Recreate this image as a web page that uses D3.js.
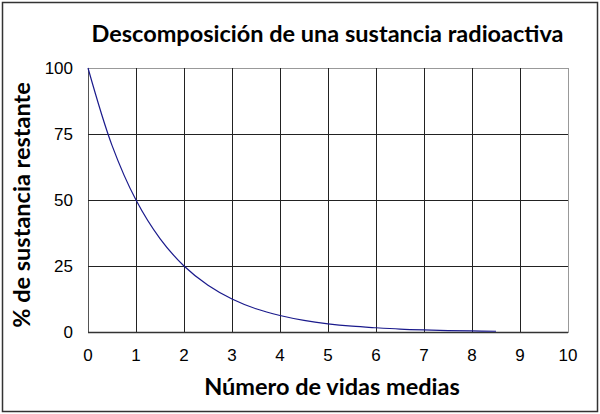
<!DOCTYPE html>
<html>
<head>
<meta charset="utf-8">
<script src="https://cdn.jsdelivr.net/npm/d3@7"></script>
<style>
  body { margin: 0; background: #fff; }
</style>
</head>
<body>
<div id="chart"></div>
<script>
// vidas medias (x) y % restante (y)
const halfLives = [0, 0.5, 1, 1.5, 2, 2.5, 3, 3.5, 4, 4.5, 5, 5.5, 6, 6.5, 7, 7.5, 8, 8.5];
const remaining = [100, 70.7, 50, 35.4, 25, 17.7, 12.5, 8.8, 6.25, 4.4, 3.1, 2.2, 1.6, 1.1, 0.78, 0.55, 0.39, 0.28];
const xTicks = [0, 1, 2, 3, 4, 5, 6, 7, 8, 9, 10];
const yTicks = [0, 25, 50, 75, 100];

(function chart(){
  const width = 600, height = 414;
  const left = 88, right = 568, top = 68, bottom = 332;

  const svg = d3.select("#chart")
    .append("svg")
    .attr("width", width)
    .attr("height", height);

  // marco exterior
  svg.append("rect")
    .attr("x", 2.5).attr("y", 2.5)
    .attr("width", 595).attr("height", 409)
    .attr("fill", "white")
    .attr("stroke", "#333")
    .attr("stroke-width", 1.5);

  const x = d3.scaleLinear().domain([0, 10]).range([left, right]);
  const y = d3.scaleLinear().domain([0, 100]).range([bottom, top]);

  // borde gris del area de trazado
  svg.append("rect")
    .attr("x", left + 0.5).attr("y", top + 0.5)
    .attr("width", right - left).attr("height", bottom - top)
    .attr("fill", "none")
    .attr("stroke", "#999");

  const grid = svg.append("g").attr("stroke", "#222").attr("stroke-width", 1);

  grid.selectAll("line.v")
    .data(xTicks.slice(0, -1))
    .join("line")
    .attr("class", "v")
    .attr("x1", d => Math.round(x(d)) + 0.5).attr("x2", d => Math.round(x(d)) + 0.5)
    .attr("y1", top).attr("y2", bottom)
    .attr("stroke", (d, i) => i ? "#222" : "#555");

  grid.selectAll("line.h")
    .data(yTicks.slice(0, -1))
    .join("line")
    .attr("class", "h")
    .attr("y1", d => Math.round(y(d)) + 0.5).attr("y2", d => Math.round(y(d)) + 0.5)
    .attr("x1", left).attr("x2", right)
    .attr("stroke", d => d ? "#222" : "#333")
    .attr("stroke-width", d => d ? 1 : 1.5);

  // curva de decaimiento
  const line = d3.line()
    .x((d, i) => x(halfLives[i]))
    .y(d => y(d))
    .curve(d3.curveCatmullRom);

  svg.append("path")
    .datum(remaining)
    .attr("fill", "none")
    .attr("stroke", "#1a1a8c")
    .attr("stroke-width", 1.2)
    .attr("d", line);

  // etiquetas de los ejes
  svg.append("g")
    .attr("font-family", "Liberation Sans, Arial, sans-serif")
    .attr("font-size", 17)
    .attr("text-anchor", "end")
    .selectAll("text")
    .data(yTicks)
    .join("text")
    .attr("x", 73)
    .attr("y", d => y(d) + 6)
    .text(d => d);

  svg.append("g")
    .attr("font-family", "Liberation Sans, Arial, sans-serif")
    .attr("font-size", 17)
    .attr("text-anchor", "middle")
    .selectAll("text")
    .data(xTicks)
    .join("text")
    .attr("x", d => x(d))
    .attr("y", 361)
    .text(d => d);

  svg.append("text")
    .attr("x", 327.5).attr("y", 42)
    .attr("text-anchor", "middle")
    .attr("font-family", "Lato, sans-serif")
    .attr("font-weight", "bold")
    .attr("font-size", 23.5)
    .text("Descomposición de una sustancia radioactiva");

  svg.append("text")
    .attr("x", 332).attr("y", 395)
    .attr("text-anchor", "middle")
    .attr("font-family", "Lato, sans-serif")
    .attr("font-weight", "bold")
    .attr("font-size", 23.5)
    .text("Número de vidas medias");

  svg.append("text")
    .attr("transform", "translate(30,205) rotate(-90)")
    .attr("text-anchor", "middle")
    .attr("font-family", "Lato, sans-serif")
    .attr("font-weight", "bold")
    .attr("font-size", 23.5)
    .text("% de sustancia restante");
})();
</script>
</body>
</html>
